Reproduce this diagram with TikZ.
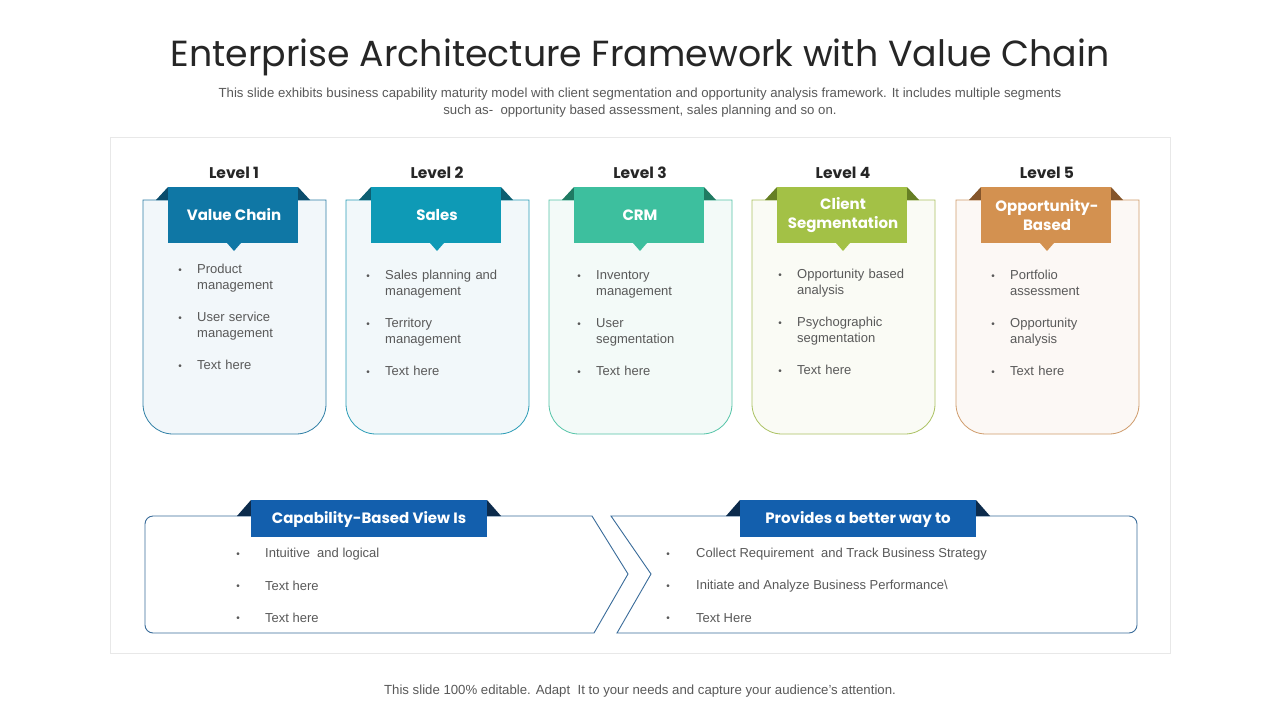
\documentclass[tikz,border=0pt]{standalone}
\usepackage{fontspec}
\setmainfont{Liberation Sans}
\newfontfamily\gothic{Poppins}
\definecolor{cA}{HTML}{0F77A5}\definecolor{dA}{HTML}{0B4C6C}\definecolor{bA}{HTML}{2F7FA5}\definecolor{fA}{HTML}{F2F7FA}
\definecolor{cB}{HTML}{0E9AB6}\definecolor{dB}{HTML}{0D5F72}\definecolor{bB}{HTML}{2B9CB6}\definecolor{fB}{HTML}{F2F8FA}
\definecolor{cC}{HTML}{3DBF9E}\definecolor{dC}{HTML}{1F7A62}\definecolor{bC}{HTML}{55C4A8}\definecolor{fC}{HTML}{F3FAF8}
\definecolor{cD}{HTML}{A3C146}\definecolor{dD}{HTML}{667F24}\definecolor{bD}{HTML}{ABC262}\definecolor{fD}{HTML}{FAFBF5}
\definecolor{cE}{HTML}{D39150}\definecolor{dE}{HTML}{85552A}\definecolor{bE}{HTML}{CF9C6C}\definecolor{fE}{HTML}{FCF8F5}
\definecolor{cF}{HTML}{135FAD}\definecolor{dF}{HTML}{0C2B4C}\definecolor{bF}{HTML}{3A6C9A}
\definecolor{txt}{HTML}{595959}
\tikzset{
  bodytxt/.style={font=\fontsize{13}{16}\selectfont, text=txt, anchor=north west, align=left, inner sep=0pt},
  bul/.style={font=\fontsize{10}{10}\selectfont, text=txt, inner sep=0pt},
  headtxt/.style={font=\gothic\bfseries\fontsize{15}{19}\selectfont, text=white, align=center, inner sep=0pt},
  leveltxt/.style={font=\gothic\bfseries\fontsize{15.5}{16}\selectfont, text=black!85, inner sep=0pt},
}
% #1 name, #2 left x, #3 letter, #4 level, #5 header, #6 first y, #7..#9 items; \txx = text x
\newcommand\mycard[9]{%
  \draw[draw=b#3, fill=f#3, line width=0.8pt] (#2,200) -- (#2,404) .. controls (#2,420.6) and (#2+13.4,434) .. (#2+30,434) -- (#2+153,434) .. controls (#2+169.6,434) and (#2+183,420.6) .. (#2+183,404) -- (#2+183,200) -- cycle;
  \fill[d#3] (#2+13,200) -- (#2+25,187) -- (#2+25,200) -- cycle;
  \fill[d#3] (#2+155,187) -- (#2+167,200) -- (#2+155,200) -- cycle;
  \fill[c#3] (#2+25,187) rectangle (#2+155,243);
  \fill[c#3] (#2+84,243) -- (#2+91,251) -- (#2+98,243) -- cycle;
  \node[leveltxt] (#1lv) at (#2+91,173) {#4};
  \node[headtxt] (#1hd) at (#2+91,215) {#5};
  \node[bul] (#1b1) at (\txx-17,#6+2) {•};
  \node[bodytxt, text width=125pt] (#1t1) at (\txx,#6-5) {#7};
  \node[bul] (#1b2) at (\txx-17,#6+50) {•};
  \node[bodytxt, text width=125pt] (#1t2) at (\txx,#6+43) {#8};
  \node[bul] (#1b3) at (\txx-17,#6+98) {•};
  \node[bodytxt, text width=125pt] (#1t3) at (\txx,#6+91) {#9};
}
\begin{document}
\begin{tikzpicture}[x=1pt,y=-1pt]
\useasboundingbox[fill=white] (0,0) rectangle (1280,720);
\node[font=\gothic\fontsize{36.3}{42}\selectfont, text=black!85, inner sep=0pt] (title) at (640,57) {Enterprise Architecture Framework with Value Chain};
\node[font=\fontsize{13.2}{17}\selectfont, text=txt, align=center, inner sep=0pt] (sub) at (640,103) {This slide exhibits business capability maturity model with client segmentation and opportunity analysis framework. It includes multiple segments\\such as-\ \ opportunity based assessment, sales planning and so on.};
\draw[draw=black!9, line width=0.8pt] (110,137) rectangle (1170,653);

\def\txx{197}
\mycard{k1}{143}{A}{Level 1}{Value Chain}{269}{Product\\management}{User service\\management}{Text here}
\def\txx{385}
\mycard{k2}{346}{B}{Level 2}{Sales}{275}{Sales planning and\\management}{Territory\\management}{Text here}
\def\txx{596}
\mycard{k3}{549}{C}{Level 3}{CRM}{275}{Inventory\\management}{User\\segmentation}{Text here}
\def\txx{797}
\mycard{k4}{752}{D}{Level 4}{Client\\Segmentation}{274}{Opportunity based\\analysis}{Psychographic\\segmentation}{Text here}
\def\txx{1010}
\mycard{k5}{956}{E}{Level 5}{Opportunity-\\Based}{275}{Portfolio\\assessment}{Opportunity\\analysis}{Text here}

% bottom shapes
\draw[draw=bF, line width=0.9pt] (153,516) -- (592,516) -- (628,574) -- (594,633) -- (153,633) .. controls (148.6,633) and (145,629.4) .. (145,625) -- (145,524) .. controls (145,519.6) and (148.6,516) .. (153,516) -- cycle;
\draw[draw=bF, line width=0.9pt] (611,516) -- (1129,516) .. controls (1133.4,516) and (1137,519.6) .. (1137,524) -- (1137,625) .. controls (1137,629.4) and (1133.4,633) .. (1129,633) -- (617,633) -- (651,574) -- cycle;

\fill[dF] (237,516) -- (251,500) -- (251,516) -- cycle;
\fill[dF] (487,500) -- (501,516) -- (487,516) -- cycle;
\fill[cF] (251,500) rectangle (487,537);
\node[headtxt] (capv) at (369,519) {Capability-Based View Is};

\fill[dF] (726,516) -- (740,500) -- (740,516) -- cycle;
\fill[dF] (976,500) -- (990,516) -- (976,516) -- cycle;
\fill[cF] (740,500) rectangle (976,537);
\node[headtxt] (prov) at (858,519) {Provides a better way to};

\node[bul] (lb1) at (238,555) {•};
\node[bodytxt, anchor=west] (lt1) at (265,554) {Intuitive\ \ and logical};
\node[bul] (lb2) at (238,587) {•};
\node[bodytxt, anchor=west] (lt2) at (265,586) {Text here};
\node[bul] (lb3) at (238,619) {•};
\node[bodytxt, anchor=west] (lt3) at (265,618) {Text here};

\node[bul] (rb1) at (668,555) {•};
\node[bodytxt, anchor=west] (rt1) at (696,554) {Collect Requirement\ \ and Track Business Strategy};
\node[bul] (rb2) at (668,587) {•};
\node[bodytxt, anchor=west] (rt2) at (696,586) {Initiate and Analyze Business Performance\textbackslash};
\node[bul] (rb3) at (668,619) {•};
\node[bodytxt, anchor=west] (rt3) at (696,618) {Text Here};

\node[font=\fontsize{13.2}{15}\selectfont, text=txt, inner sep=0pt] (foot) at (640,691) {This slide 100\% editable. Adapt\ \ It to your needs and capture your audience's attention.};
\end{tikzpicture}
\end{document}
